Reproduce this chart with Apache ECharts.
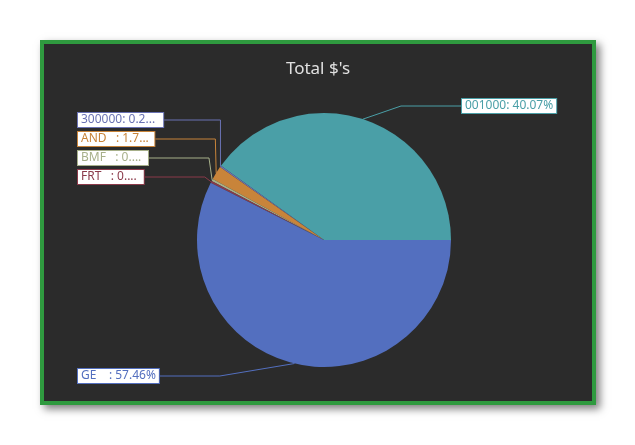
<!DOCTYPE html>
<html>
  <head>
    <meta charset="UTF-8" />
    <script src="https://cdn.jsdelivr.net/npm/echarts@6/dist/echarts.min.js"></script>
    <style>
      body { margin: 0; background: #fff; }
      #frame {
        position: absolute; left: 40px; top: 40px; width: 548px; height: 357px;
        border: 4px solid #2f9a3f; background: #2b2b2b;
        box-shadow: 4px 4px 8px rgba(0,0,0,0.5);
      }
      #main { width: 548px; height: 357px; }
    </style>
  </head>
  <body>
    <div id="frame"><div id="main"></div></div>
    <script>
      const names = ['001000', '300000', 'AND   ', 'BMF   ', 'FRT   ', 'GE    '];
      const values = [40.07, 0.20, 1.74, 0.29, 0.24, 57.46];
      const colors = ['#4a9fa7', '#6a72b4', '#c8843a', '#a7b08a', '#8b3a4a', '#536fbf'];
      const labelY = [62, 76, 95, 114, 133, 332];

      const chart = echarts.init(document.getElementById('main'));
      chart.setOption({
        backgroundColor: '#2b2b2b',
        title: {
          text: "Total $'s", left: 'center', top: 12,
          textStyle: { color: '#e0e0e0', fontSize: 17, fontWeight: 'normal', fontFamily: 'Noto Sans' }
        },
        series: [{
          type: 'pie',
          center: [280, 196],
          radius: 127,
          startAngle: 0,
          clockwise: false,
          animation: false,
          label: {
            formatter: p => p.name + ': ' + p.value.toFixed(2) + '%',
            backgroundColor: '#fff',
            borderWidth: 1,
            padding: [1, 3],
            fontSize: 12,
            fontFamily: 'Noto Sans'
          },
          labelLine: { length: 20, length2: 60, smooth: false },
          labelLayout: p => {
            const i = p.dataIndex;
            if (i === 0) return { x: 418, y: labelY[i], align: 'left', verticalAlign: 'middle' };
            return { x: 34, y: labelY[i], align: 'left', verticalAlign: 'middle' };
          },
          data: names.map((n, i) => ({
            name: n, value: values[i],
            itemStyle: { color: colors[i] },
            label: { color: colors[i], borderColor: colors[i] },
            labelLine: { lineStyle: { color: colors[i] } }
          }))
        }]
      });
    </script>
  </body>
</html>
